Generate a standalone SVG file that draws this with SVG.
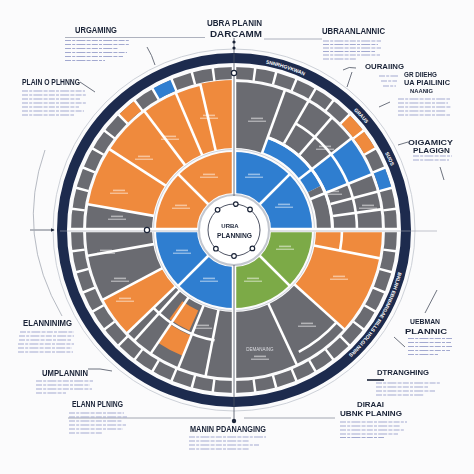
<svg xmlns="http://www.w3.org/2000/svg" width="474" height="474" viewBox="0 0 474 474">
<defs>
<style>
.s{fill:none}
.o{stroke:#EF8A3D}
.b{stroke:#2F7ED0}
.g{stroke:#7CAA47}
.k{stroke:#6A6B71}
.sep{stroke:#fff;stroke-width:2.6}
.ax{stroke:#fff;stroke-width:4.5}
.ph{fill:none;stroke:#a3a9d0;stroke-width:1.2;stroke-dasharray:6 1.2 3 1.2 9 1.2 4 1.2}
.h{font-family:"Liberation Sans",Arial,sans-serif;font-weight:bold;fill:#1a2337}
.cn{fill:none;stroke:#4a5060;stroke-width:0.8}
.rt{font-family:"Liberation Sans",Arial,sans-serif;font-size:5px;font-weight:bold;fill:#fff}
.dot{fill:#fff;stroke:#1a2337;stroke-width:1.2}
</style>
<marker id="arr" viewBox="0 0 6 6" refX="5" refY="3" markerWidth="5" markerHeight="5" orient="auto"><path d="M0 0L6 3L0 6z" fill="#1a2337"/></marker>
<path id="navyPath" d="M-169.5 0A169.5 169.5 0 1 1 169.5 0A169.5 169.5 0 1 1 -169.5 0"/>
<g id="lbl"><rect x="-6" y="-2.4" width="12" height="1.6"/><rect x="-9" y="0.6" width="18" height="1.3"/></g>
</defs>
<rect width="474" height="474" fill="#fbfbfc"/>

<g id="wheel" transform="translate(234 230)">
<circle r="181" class="s" stroke="#cdd1d8" stroke-width="1"/>
<circle r="172" class="s" stroke="#1d2b4e" stroke-width="10"/>
<g id="ringD">
<circle r="157" class="s k" stroke-width="12"/>
<circle r="157" class="s o" stroke-width="12" pathLength="360" stroke-dasharray="7.5 352.5" transform="rotate(225)"/>
<circle r="157" class="s b" stroke-width="12" pathLength="360" stroke-dasharray="7.5 352.5" transform="rotate(240)"/>
<circle r="157" class="s o" stroke-width="12" pathLength="360" stroke-dasharray="15 345" transform="rotate(315)"/>
<circle r="157" class="s b" stroke-width="12" pathLength="360" stroke-dasharray="7.5 352.5" transform="rotate(337.5)"/>
<circle r="157" class="s" stroke="#fff" stroke-width="13" pathLength="360" stroke-dasharray="0.9 6.6" stroke-dashoffset="0.45"/>
</g>
<g id="ringBC">
<circle r="115" class="s k" stroke-width="66" pathLength="360" stroke-dasharray="10 350" transform="rotate(180)"/>
<circle r="115" class="s o" stroke-width="66" pathLength="360" stroke-dasharray="23 337" transform="rotate(190)"/>
<circle r="115" class="s o" stroke-width="66" pathLength="360" stroke-dasharray="20 340" transform="rotate(213)"/>
<circle r="115" class="s o" stroke-width="66" pathLength="360" stroke-dasharray="14 346" transform="rotate(233)"/>
<circle r="115" class="s o" stroke-width="66" pathLength="360" stroke-dasharray="10 350" transform="rotate(247)"/>
<circle r="116" class="s o" stroke-width="68" pathLength="360" stroke-dasharray="13 347" transform="rotate(257)"/>
<circle r="115" class="s k" stroke-width="66" pathLength="360" stroke-dasharray="20 340" transform="rotate(270)"/>
<circle r="90" class="s b" stroke-width="14" pathLength="360" stroke-dasharray="43 317" transform="rotate(290)"/>
<circle r="124" class="s k" stroke-width="48" pathLength="360" stroke-dasharray="32 328" transform="rotate(290)"/>
<circle r="124" class="s b" stroke-width="48" pathLength="360" stroke-dasharray="16 344" transform="rotate(322)"/>
<circle r="90" class="s k" stroke-width="14" pathLength="360" stroke-dasharray="27 333" transform="rotate(333)"/>
<circle r="124" class="s k" stroke-width="48" pathLength="360" stroke-dasharray="22 338" transform="rotate(338)"/>
<circle r="115" class="s o" stroke-width="66" pathLength="360" stroke-dasharray="42 318"/>
<circle r="115" class="s k" stroke-width="66" pathLength="360" stroke-dasharray="23 337" transform="rotate(42)"/>
<circle r="115" class="s k" stroke-width="66" pathLength="360" stroke-dasharray="25 335" transform="rotate(65)"/>
<circle r="115" class="s k" stroke-width="66" pathLength="360" stroke-dasharray="46 314" transform="rotate(90)"/>
<circle r="115" class="s o" stroke-width="66" pathLength="360" stroke-dasharray="16 344" transform="rotate(136)"/>
<circle r="115" class="s k" stroke-width="66" pathLength="360" stroke-dasharray="28 332" transform="rotate(152)"/>
<circle r="99" class="s o" stroke-width="22" pathLength="360" stroke-dasharray="12 348" transform="rotate(114)"/>
<circle r="125" class="s o" stroke-width="22" pathLength="360" stroke-dasharray="12 348" transform="rotate(112)"/>
<circle r="98.5" class="s" stroke="#fff" stroke-width="2.6" pathLength="360" stroke-dasharray="70 290" transform="rotate(290)"/>
<circle r="123" class="s" stroke="#fff" stroke-width="2.6" pathLength="360" stroke-dasharray="60 300" transform="rotate(300)"/>
<circle r="108" class="s" stroke="#fff" stroke-width="2.6" pathLength="360" stroke-dasharray="11 349"/>
<circle r="112" class="s" stroke="#fff" stroke-width="2.6" pathLength="360" stroke-dasharray="36 324" transform="rotate(100)"/>
<circle r="138" class="s" stroke="#fff" stroke-width="2.6" pathLength="360" stroke-dasharray="20 340" transform="rotate(42)"/>
<g class="sep">
<line x1="80" x2="150" transform="rotate(190)"/><line x1="80" x2="150" transform="rotate(213)"/>
<line x1="80" x2="150" transform="rotate(233)"/><line x1="80" x2="150" transform="rotate(247)"/>
<line x1="80" x2="150" transform="rotate(257)"/><line x1="80" x2="150" transform="rotate(290)"/>
<line x1="100" x2="150" transform="rotate(300)"/><line x1="100" x2="150" transform="rotate(311)"/>
<line x1="80" x2="150" transform="rotate(322)"/><line x1="80" x2="150" transform="rotate(338)"/>
<line x1="100" x2="150" transform="rotate(345)"/><line x1="100" x2="150" transform="rotate(352)"/>
<line x1="80" x2="150" transform="rotate(11)"/><line x1="80" x2="150" transform="rotate(42)"/>
<line x1="80" x2="150" transform="rotate(65)"/><line x1="80" x2="150" transform="rotate(112)"/>
<line x1="80" x2="150" transform="rotate(124)"/><line x1="80" x2="150" transform="rotate(132)"/>
<line x1="80" x2="150" transform="rotate(136)"/><line x1="80" x2="150" transform="rotate(152)"/>
<line x1="80" x2="150" transform="rotate(170)"/><line x1="80" x2="150" transform="rotate(101)"/>
</g>
</g>
<g id="ringA">
<circle r="57.5" class="s o" stroke-width="41" pathLength="360" stroke-dasharray="90 270" transform="rotate(180)"/>
<circle r="57.5" class="s b" stroke-width="41" pathLength="360" stroke-dasharray="90 270" transform="rotate(270)"/>
<circle r="57.5" class="s g" stroke-width="41" pathLength="360" stroke-dasharray="90 270"/>
<circle r="57.5" class="s b" stroke-width="41" pathLength="360" stroke-dasharray="90 270" transform="rotate(90)"/>
<g class="sep">
<line x1="36" x2="80" transform="rotate(45)"/><line x1="36" x2="80" transform="rotate(135)"/>
<line x1="36" x2="80" transform="rotate(225)"/><line x1="36" x2="80" transform="rotate(315)"/>
</g>
</g>
<circle r="80.5" class="s" stroke="#c2c6cf" stroke-width="0.8"/>
<g class="ax">
<line x1="0" y1="-166" x2="0" y2="166"/><line x1="-166" y1="0" x2="166" y2="0"/>
</g>
<g id="navyText">
<text class="rt"><textPath href="#navyPath" startOffset="28%">SNNRHGVKWAN</textPath></text>
<text class="rt"><textPath href="#navyPath" startOffset="37.5%">GRAUS</textPath></text>
<text class="rt"><textPath href="#navyPath" startOffset="42.5%">SUOS</textPath></text>
<text class="rt"><textPath href="#navyPath" startOffset="54%">BKLRH EBNIARGAE RILLS HOLGI NNRS</textPath></text>
</g>
<g id="cellLabels" fill="#fff" opacity="0.5">
<use href="#lbl" x="-53" y="-23"/><use href="#lbl" x="-25" y="-54"/><use href="#lbl" x="20" y="-54"/><use href="#lbl" x="50" y="-24"/>
<use href="#lbl" x="51" y="18"/><use href="#lbl" x="19" y="50"/><use href="#lbl" x="-25" y="50"/><use href="#lbl" x="-52" y="22"/>
<use href="#lbl" x="-117" y="-12"/><use href="#lbl" x="-115" y="-38"/><use href="#lbl" x="-90" y="-72"/><use href="#lbl" x="-64" y="-92"/>
<use href="#lbl" x="-25" y="-113"/><use href="#lbl" x="23" y="-110"/><use href="#lbl" x="91" y="-82"/><use href="#lbl" x="99" y="-37"/>
<use href="#lbl" x="134" y="-23"/><use href="#lbl" x="105" y="48"/><use href="#lbl" x="73" y="95"/><use href="#lbl" x="26" y="128"/>
<use href="#lbl" x="-31" y="97"/><use href="#lbl" x="-109" y="70"/><use href="#lbl" x="-114" y="50"/><use href="#lbl" x="-128" y="22"/>
</g>
<text x="26" y="121" text-anchor="middle" font-family="Liberation Sans, Arial, sans-serif" font-size="4.5" fill="#dcdde2">DEMANAING</text>
<g id="center">
<circle r="35" fill="#fff" stroke="#c3c7cf" stroke-width="2"/>
<circle r="26" class="s" stroke="#3b4152" stroke-width="0.9"/>
<circle cx="-16.4" cy="-20.2" r="2.3" class="dot"/><circle cx="1.8" cy="-25.9" r="2.3" class="dot"/>
<circle cx="16" cy="-20.5" r="2.3" class="dot"/><circle cx="-18.1" cy="18.7" r="2.3" class="dot"/>
<circle cx="18.4" cy="18.4" r="2.3" class="dot"/><circle cx="0" cy="26" r="2.3" class="dot"/>
<text x="-4" y="-2" text-anchor="middle" class="h" font-size="6">URBA</text>
<text x="0.5" y="7.5" text-anchor="middle" class="h" font-size="8" textLength="35" lengthAdjust="spacingAndGlyphs">PLANNING</text>
</g>
</g>

<g id="connectors">
<line x1="234" y1="38" x2="234" y2="196" class="cn"/>
<line x1="234" y1="265" x2="234" y2="420" class="cn"/>
<line x1="30" y1="230" x2="54" y2="230" class="cn" marker-end="url(#arr)"/>
<line x1="60" y1="231" x2="198" y2="231" stroke="#9a9fab" stroke-width="0.6"/>
<line x1="270" y1="231" x2="437" y2="231" stroke="#9a9fab" stroke-width="0.6"/>
<line x1="65" y1="37.5" x2="205" y2="37.5" stroke="#9aa0ad" stroke-width="0.8"/>
<line x1="264" y1="39" x2="322" y2="39" stroke="#9aa0ad" stroke-width="0.8"/>
<path d="M147 47Q152 55 155 65" class="cn"/>
<line x1="80" y1="82" x2="95" y2="92" class="cn"/>
<path d="M343 70Q349 66 356 68" class="cn"/>
<line x1="352" y1="72" x2="347" y2="87" class="cn"/>
<line x1="379" y1="107" x2="390" y2="102" class="cn"/>
<line x1="398" y1="145" x2="408" y2="142" class="cn"/>
<line x1="440" y1="167" x2="444" y2="180" class="cn"/>
<line x1="437" y1="290" x2="425" y2="313" class="cn"/>
<line x1="394" y1="337" x2="405" y2="347" class="cn"/>
<line x1="367" y1="380" x2="384" y2="380" stroke="#1a2337" stroke-width="1.6"/>
<line x1="244" y1="418" x2="335" y2="418" stroke="#8d929e" stroke-width="0.8"/>
<line x1="68" y1="418" x2="231" y2="418" stroke="#8d929e" stroke-width="0.8"/>
<path d="M88 369Q100 368 112 371" class="cn"/>
<path d="M45 150Q15 235 62 316" fill="none" stroke="#a4a9b4" stroke-width="0.8"/>
<circle cx="234" cy="42" r="1.6" fill="#1a2337"/>
<circle cx="234" cy="48" r="1.6" fill="#1a2337"/>
<circle cx="234" cy="73" r="2.6" class="dot"/>
<circle cx="147" cy="230" r="2.6" class="dot"/>
<circle cx="234" cy="421" r="2.2" fill="#1a2337"/>
</g>

<g id="n-urgaming"><text x="75" y="33" class="h" font-size="8.5" textLength="42" lengthAdjust="spacingAndGlyphs">URGAMING</text>
<path class="ph" d="M65 40.5h65M65 44.5h65M65 48.5h53M65 52.5h62M65 56.5h58M65 60.5h40"/></g>
<g id="n-title"><text x="207" y="26" class="h" font-size="9" textLength="55" lengthAdjust="spacingAndGlyphs">UBRA PLANIN</text>
<text x="210" y="36.5" class="h" font-size="9" textLength="52" lengthAdjust="spacingAndGlyphs">DARCAMM</text></g>
<g id="n-ubraan"><text x="322" y="34" class="h" font-size="8.5" textLength="63" lengthAdjust="spacingAndGlyphs">UBRAANLANNIC</text>
<path class="ph" d="M323 41h58M323 44.5h55M323 48h58M323 51.5h52M323 55h57M323 59h34"/></g>
<g id="n-ouraiing"><text x="365" y="69" class="h" font-size="8" textLength="39" lengthAdjust="spacingAndGlyphs">OURAIING</text></g>
<g id="n-grdiiehg"><text x="404" y="77" class="h" font-size="6.5" textLength="33" lengthAdjust="spacingAndGlyphs">GR DIIEHG</text>
<text x="404" y="85" class="h" font-size="6.5" textLength="46" lengthAdjust="spacingAndGlyphs">UA PIAILINIC</text>
<text x="410" y="92.5" class="h" font-size="5.5" textLength="23" lengthAdjust="spacingAndGlyphs">NAANIG</text>
<path class="ph" d="M379 76h19M381 81h16M383 86h13"/>
<path class="ph" d="M398 99h52M398 103h50M398 107h53M398 111h48M398 115h52"/></g>
<g id="n-oigamicy"><text x="408" y="144.5" class="h" font-size="6.5" textLength="45" lengthAdjust="spacingAndGlyphs">OIGAMICY</text>
<text x="413" y="152.5" class="h" font-size="6.5" textLength="37" lengthAdjust="spacingAndGlyphs">PLAGIGN</text>
<path class="ph" d="M413 156h39M413 160h36"/></g>
<g id="n-uebman"><text x="410" y="324" class="h" font-size="8" textLength="30" lengthAdjust="spacingAndGlyphs">UEBMAN</text>
<text x="405" y="333.5" class="h" font-size="8" textLength="42" lengthAdjust="spacingAndGlyphs">PLANNIC</text>
<path class="ph" d="M408 338.5h44M408 342.5h43M408 346.5h44M408 350.5h42M408 354.5h30"/></g>
<g id="n-dtranghing"><text x="377" y="375" class="h" font-size="8" textLength="52" lengthAdjust="spacingAndGlyphs">DTRANGHING</text>
<path class="ph" d="M376 383h64M376 387h52M376 391h59M376 395h48"/></g>
<g id="n-diraai"><text x="357" y="406.5" class="h" font-size="7" textLength="27" lengthAdjust="spacingAndGlyphs">DIRAAI</text>
<text x="340" y="416" class="h" font-size="8" textLength="62" lengthAdjust="spacingAndGlyphs">UBNK PLANING</text>
<path class="ph" d="M340 422h67M340 426h60M340 430h65M340 434h58M340 437.5h44"/></g>
<g id="n-manin"><text x="190" y="432" class="h" font-size="8.5" textLength="76" lengthAdjust="spacingAndGlyphs">MANIN PDANANGING</text>
<path class="ph" d="M189 437h77M189 441h60M189 445h70M189 449h60"/></g>
<g id="n-plain"><text x="22" y="85" class="h" font-size="8.5" textLength="58" lengthAdjust="spacingAndGlyphs">PLAIN O PLHNNG</text>
<path class="ph" d="M22 91h63M22 95h65M22 99h58M22 103h64M22 107h57M22 111h62M22 115h52"/></g>
<g id="n-elanninimg"><text x="23" y="326" class="h" font-size="8.5" textLength="49" lengthAdjust="spacingAndGlyphs">ELANNINIMG</text>
<path class="ph" d="M20 332h54M19 336h55M19 340h52M18 344h56M18 348h54M18 352h55"/></g>
<g id="n-umplannin"><text x="42" y="376" class="h" font-size="8.5" textLength="46" lengthAdjust="spacingAndGlyphs">UMPLANNIN</text>
<path class="ph" d="M36 381h57M36 385h54M36 389h56M36 393h30"/></g>
<g id="n-elann"><text x="72" y="407" class="h" font-size="8.5" textLength="51" lengthAdjust="spacingAndGlyphs">ELANN PLNING</text>
<path class="ph" d="M69 413h55M69 417h58M69 421h53M69 425h57M69 429h54M69 433h34"/></g>
</svg>
